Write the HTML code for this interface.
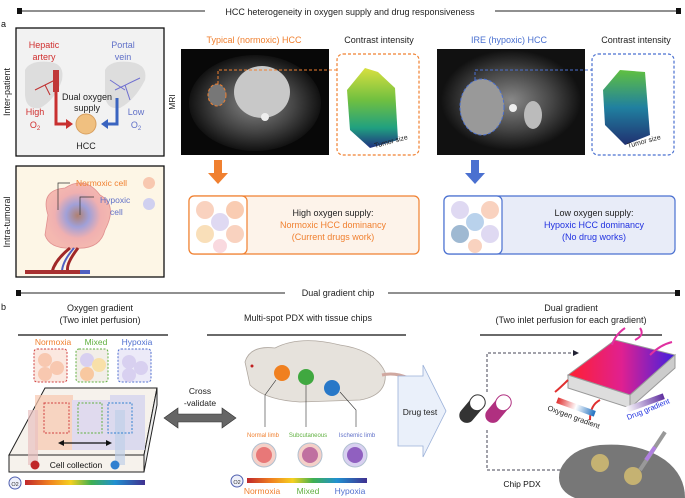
<!DOCTYPE html>
<html><head><meta charset="utf-8"><style>
html,body{margin:0;padding:0;background:#fff;}
svg{display:block;font-family:"Liberation Sans",Arial,sans-serif;}
</style></head><body>
<svg width="685" height="498" viewBox="0 0 685 498" xmlns="http://www.w3.org/2000/svg">
<defs>
<linearGradient id="rb" x1="0" x2="1"><stop offset="0" stop-color="#c0282c"/><stop offset=".2" stop-color="#f08020"/><stop offset=".38" stop-color="#f5d020"/><stop offset=".55" stop-color="#40b050"/><stop offset=".75" stop-color="#2090d0"/><stop offset="1" stop-color="#403090"/></linearGradient>
<linearGradient id="ch" x1="0" x2="1"><stop offset="0" stop-color="#ff2030"/><stop offset=".5" stop-color="#e02090"/><stop offset="1" stop-color="#4020e0"/></linearGradient>
<linearGradient id="og" x1="0" x2="1"><stop offset="0" stop-color="#e03030"/><stop offset=".5" stop-color="#fff"/><stop offset="1" stop-color="#2070c0"/></linearGradient>
<linearGradient id="dg" x1="0" x2="1"><stop offset="0" stop-color="#fff"/><stop offset="1" stop-color="#6030a0"/></linearGradient>
<radialGradient id="mri"><stop offset="0" stop-color="#888"/><stop offset=".6" stop-color="#444"/><stop offset="1" stop-color="#111"/></radialGradient>
<linearGradient id="surf" x1="0" y1="0" x2="0" y2="1"><stop offset="0" stop-color="#d8e040"/><stop offset=".4" stop-color="#70c040"/><stop offset=".75" stop-color="#20a080"/><stop offset="1" stop-color="#203080"/></linearGradient>
<linearGradient id="surf2" x1="0" y1="0" x2="0" y2="1"><stop offset="0" stop-color="#60c040"/><stop offset=".5" stop-color="#2080a0"/><stop offset="1" stop-color="#203070"/></linearGradient>
<radialGradient id="tum"><stop offset="0" stop-color="#b08070"/><stop offset=".35" stop-color="#a0a0d8"/><stop offset=".7" stop-color="#f0b0b0"/><stop offset="1" stop-color="#f4b8b0"/></radialGradient>
</defs>

<!-- Header a -->
<line x1="20" y1="11" x2="205" y2="11" stroke="#222" stroke-width="1"/>
<line x1="495" y1="11" x2="680" y2="11" stroke="#222" stroke-width="1"/>
<rect x="17" y="8" width="5" height="6" fill="#111"/><rect x="676" y="8" width="5" height="6" fill="#111"/>
<text x="350" y="15" font-size="9" text-anchor="middle" fill="#222">HCC heterogeneity in oxygen supply and drug responsiveness</text>
<text x="1" y="27" font-size="9" fill="#111">a</text>

<text transform="translate(10,92) rotate(-90)" font-size="9" text-anchor="middle" fill="#222">Inter-patient</text>
<text transform="translate(10,222) rotate(-90)" font-size="9" text-anchor="middle" fill="#222">Intra-tumoral</text>

<!-- box1 -->
<rect x="16" y="28" width="148" height="128" fill="#f2f2f2" stroke="#111" stroke-width="1.3"/>
<path d="M25 70 Q30 60 50 62 Q65 64 62 80 Q55 100 40 108 Q26 110 25 95Z" fill="#ddd"/>
<path d="M105 70 Q110 60 130 62 Q148 64 145 80 Q135 100 120 108 Q106 110 105 95Z" fill="#ddd"/>
<path d="M35 90 L55 80 M45 85 L50 95" stroke="#c03030" stroke-width="1"/>
<path d="M115 90 L140 78 M125 85 L130 100 M110 80 L125 90" stroke="#7070d0" stroke-width="1"/>
<rect x="53" y="70" width="6" height="22" fill="#c03838"/>
<text x="44" y="48" font-size="9" fill="#d03030" text-anchor="middle">Hepatic</text>
<text x="44" y="60" font-size="9" fill="#d03030" text-anchor="middle">artery</text>
<text x="123" y="48" font-size="9" fill="#6070c8" text-anchor="middle">Portal</text>
<text x="123" y="60" font-size="9" fill="#6070c8" text-anchor="middle">vein</text>
<text x="87" y="100" font-size="9" fill="#222" text-anchor="middle">Dual oxygen</text>
<text x="87" y="111" font-size="9" fill="#222" text-anchor="middle">supply</text>
<path d="M56 92 V124 H68" stroke="#c83030" stroke-width="3" fill="none"/><path d="M66 119 L73 124 L66 129Z" fill="#c83030"/>
<path d="M117 98 V124 H106" stroke="#3a64c0" stroke-width="3" fill="none"/><path d="M108 119 L101 124 L108 129Z" fill="#3a64c0"/>
<text x="35" y="115" font-size="9" fill="#d03030" text-anchor="middle">High</text>
<text x="35" y="128" font-size="9" fill="#d03030" text-anchor="middle">O<tspan font-size="6" dy="2">2</tspan></text>
<text x="136" y="115" font-size="9" fill="#6070c8" text-anchor="middle">Low</text>
<text x="136" y="128" font-size="9" fill="#6070c8" text-anchor="middle">O<tspan font-size="6" dy="2">2</tspan></text>
<circle cx="86" cy="124" r="10" fill="#f0c080" stroke="#d8a060" stroke-width="1"/>
<text x="86" y="149" font-size="9" fill="#222" text-anchor="middle">HCC</text>

<!-- box2 -->
<rect x="16" y="166" width="148" height="111" fill="#fdf6e6" stroke="#111" stroke-width="1.3"/>
<path d="M48 215 Q40 190 65 188 Q85 175 100 195 Q118 205 105 230 Q100 250 75 248 Q50 250 45 235Z" fill="url(#tum)" stroke="#e09090" stroke-width=".8"/>
<path d="M70 248 Q55 260 52 272 M78 248 Q65 265 68 272" stroke="#a02828" stroke-width="3" fill="none"/>
<path d="M74 248 Q62 262 62 272" stroke="#5060c0" stroke-width="2" fill="none"/>
<rect x="25" y="270" width="65" height="4" fill="#a83030"/><rect x="80" y="270" width="10" height="4" fill="#5060c0"/>
<path d="M58 210 V183 H70" stroke="#333" stroke-width=".7" fill="none"/>
<path d="M80 215 V197 H94" stroke="#333" stroke-width=".7" fill="none"/>
<text x="76" y="186" font-size="8.5" fill="#f08030">Normoxic cell</text>
<text x="100" y="203" font-size="8.5" fill="#6070c8">Hypoxic</text>
<text x="110" y="215" font-size="8.5" fill="#6070c8">cell</text>
<circle cx="149" cy="183" r="6" fill="#f8c8b0"/><circle cx="149" cy="204" r="6" fill="#d0d0f0"/>

<!-- MRI panels -->
<text x="254" y="43" font-size="9" fill="#f08030" text-anchor="middle">Typical (normoxic) HCC</text>
<text x="379" y="43" font-size="9" fill="#222" text-anchor="middle">Contrast intensity</text>
<text x="509" y="43" font-size="9" fill="#4a70d0" text-anchor="middle">IRE (hypoxic) HCC</text>
<text x="636" y="43" font-size="9" fill="#222" text-anchor="middle">Contrast intensity</text>
<text transform="translate(175,102) rotate(-90)" font-size="8.5" text-anchor="middle" fill="#222">MRI</text>
<rect x="181" y="49" width="148" height="106" fill="#080808"/>
<ellipse cx="255" cy="103" rx="66" ry="48" fill="url(#mri)"/>
<ellipse cx="262" cy="92" rx="28" ry="26" fill="#c8c8c8"/>
<circle cx="265" cy="117" r="4" fill="#eee"/>
<ellipse cx="217" cy="95" rx="9" ry="11" fill="#777" stroke="#f08030" stroke-width="1" stroke-dasharray="3,2"/>
<path d="M218 84 V70 H337" stroke="#f08030" stroke-width="1" stroke-dasharray="3,2" fill="none"/>
<rect x="337" y="54" width="82" height="101" rx="6" fill="#fff" stroke="#f08030" stroke-width="1.2" stroke-dasharray="3,2"/>
<path d="M347 90 L365 68 L378 72 L395 88 L398 140 L370 148 L350 130Z" fill="url(#surf)"/>
<text transform="translate(375,148) rotate(-15)" font-size="7" fill="#222">Tumor size</text>

<rect x="437" y="49" width="148" height="106" fill="#111"/>
<ellipse cx="511" cy="100" rx="70" ry="50" fill="url(#mri)"/>
<ellipse cx="482" cy="107" rx="22" ry="28" fill="#999" stroke="#4a70d0" stroke-width="1" stroke-dasharray="3,2"/>
<circle cx="513" cy="108" r="4" fill="#eee"/>
<ellipse cx="533" cy="115" rx="9" ry="14" fill="#bbb"/>
<path d="M475 80 V70 H592" stroke="#4a70d0" stroke-width="1" stroke-dasharray="3,2" fill="none"/>
<rect x="592" y="54" width="82" height="101" rx="6" fill="#fff" stroke="#4a70d0" stroke-width="1.2" stroke-dasharray="3,2"/>
<path d="M603 90 L620 70 L645 72 L650 135 L625 145 L605 125Z" fill="url(#surf2)"/>
<text transform="translate(628,148) rotate(-15)" font-size="7" fill="#222">Tumor size</text>

<!-- arrows -->
<rect x="214" y="160" width="8" height="14" fill="#f08030"/><path d="M208 173 L228 173 L218 184Z" fill="#f08030"/>
<rect x="471" y="160" width="8" height="14" fill="#4a70d0"/><path d="M465 173 L485 173 L475 184Z" fill="#4a70d0"/>

<!-- result boxes -->
<rect x="189" y="196" width="230" height="58" rx="5" fill="#fdf3ea" stroke="#f08030" stroke-width="1.2"/>
<rect x="189" y="196" width="58" height="58" rx="5" fill="#fff" stroke="#f08030" stroke-width="1.2"/>
<g opacity=".8"><circle cx="205" cy="210" r="9" fill="#f8c8b0"/><circle cx="235" cy="210" r="9" fill="#f8c0a0"/><circle cx="220" cy="222" r="9" fill="#d8d0f0"/><circle cx="205" cy="234" r="9" fill="#f8d8a8"/><circle cx="235" cy="234" r="9" fill="#f8c8b0"/><circle cx="220" cy="246" r="7" fill="#f8d0d8"/></g>
<text x="333" y="216" font-size="9" fill="#222" text-anchor="middle">High oxygen supply:</text>
<text x="333" y="228" font-size="9" fill="#f08030" text-anchor="middle">Normoxic HCC dominancy</text>
<text x="333" y="240" font-size="9" fill="#f08030" text-anchor="middle">(Current drugs work)</text>

<rect x="444" y="196" width="231" height="58" rx="5" fill="#e8ecf8" stroke="#4a70d0" stroke-width="1.2"/>
<rect x="444" y="196" width="58" height="58" rx="5" fill="#fff" stroke="#4a70d0" stroke-width="1.2"/>
<g opacity=".8"><circle cx="460" cy="210" r="9" fill="#d8d0f0"/><circle cx="490" cy="210" r="9" fill="#f8c8b0"/><circle cx="475" cy="222" r="9" fill="#a8c8e8"/><circle cx="460" cy="234" r="9" fill="#88a8c8"/><circle cx="490" cy="234" r="9" fill="#d8d0f0"/><circle cx="475" cy="246" r="7" fill="#f8c8b0"/></g>
<text x="594" y="216" font-size="9" fill="#222" text-anchor="middle">Low oxygen supply:</text>
<text x="594" y="228" font-size="9" fill="#2030e0" text-anchor="middle">Hypoxic HCC dominancy</text>
<text x="594" y="240" font-size="9" fill="#2030e0" text-anchor="middle">(No drug works)</text>

<!-- Header b -->
<line x1="20" y1="293" x2="285" y2="293" stroke="#222"/><line x1="388" y1="293" x2="678" y2="293" stroke="#222"/>
<rect x="16" y="290" width="5" height="6" fill="#111"/><rect x="675" y="290" width="5" height="6" fill="#111"/>
<text x="338" y="296" font-size="9" text-anchor="middle" fill="#222">Dual gradient chip</text>
<text x="1" y="310" font-size="9" fill="#111">b</text>

<text x="100" y="311" font-size="9" text-anchor="middle" fill="#222">Oxygen gradient</text>
<text x="100" y="323" font-size="9" text-anchor="middle" fill="#222">(Two inlet perfusion)</text>
<line x1="18" y1="335" x2="168" y2="335" stroke="#111" stroke-width="1.2"/>
<text x="308" y="321" font-size="9" text-anchor="middle" fill="#222">Multi-spot PDX with tissue chips</text>
<line x1="207" y1="335" x2="406" y2="335" stroke="#111" stroke-width="1.2"/>
<text x="571" y="311" font-size="9" text-anchor="middle" fill="#222">Dual gradient</text>
<text x="571" y="323" font-size="9" text-anchor="middle" fill="#222">(Two inlet perfusion for each gradient)</text>
<line x1="480" y1="335" x2="662" y2="335" stroke="#111" stroke-width="1.2"/>

<!-- oxygen chip -->
<text x="53" y="345" font-size="8.5" fill="#f08030" text-anchor="middle">Normoxia</text>
<text x="96" y="345" font-size="8.5" fill="#60b040" text-anchor="middle">Mixed</text>
<text x="137" y="345" font-size="8.5" fill="#5070d0" text-anchor="middle">Hypoxia</text>
<rect x="34" y="349" width="33" height="33" rx="3" fill="#fbe8e0" stroke="#d04040" stroke-dasharray="2,1.5"/>
<rect x="76" y="349" width="32" height="33" rx="3" fill="#f2eee8" stroke="#60b040" stroke-dasharray="2,1.5"/>
<rect x="118" y="349" width="33" height="33" rx="3" fill="#eceaf8" stroke="#5070d0" stroke-dasharray="2,1.5"/>
<circle cx="45" cy="360" r="7" fill="#f8c8b0"/><circle cx="57" cy="368" r="7" fill="#f8c8b0"/><circle cx="45" cy="374" r="7" fill="#f8c8b0"/>
<circle cx="87" cy="360" r="7" fill="#d8d0f0"/><circle cx="99" cy="365" r="7" fill="#f8e0a8"/><circle cx="87" cy="374" r="7" fill="#f8c8a0"/>
<circle cx="129" cy="362" r="7" fill="#d8d0f0"/><circle cx="141" cy="368" r="7" fill="#d8d0f0"/><circle cx="129" cy="375" r="7" fill="#d8d0f0"/>
<polygon points="45,388 157,388 144,455 9,455" fill="#f6f2ec" stroke="#222" stroke-width="1"/>
<rect x="9" y="455" width="135" height="17" fill="#f6f2ec" stroke="#222" stroke-width="1"/>
<polygon points="144,455 157,388 157,405 144,472" fill="#eee" stroke="#222"/>
<g opacity=".7"><rect x="35" y="395" width="38" height="55" fill="#f8c8b0"/><rect x="72" y="400" width="40" height="50" fill="#d8d0f0"/><rect x="110" y="395" width="35" height="55" fill="#d0d0f0"/></g>
<rect x="28" y="410" width="10" height="55" fill="#e8c0c0" opacity=".7"/><rect x="115" y="410" width="10" height="55" fill="#c0d0e8" opacity=".7"/>
<rect x="44" y="403" width="25" height="30" fill="none" stroke="#d04040" stroke-dasharray="2,1.5"/>
<rect x="78" y="403" width="24" height="30" fill="none" stroke="#60b040" stroke-dasharray="2,1.5"/>
<rect x="108" y="403" width="24" height="30" fill="none" stroke="#3080d0" stroke-dasharray="2,1.5"/>
<line x1="62" y1="443" x2="108" y2="443" stroke="#111" stroke-width="1.2"/>
<path d="M58 443 L64 440 L64 446Z M112 443 L106 440 L106 446Z" fill="#111"/>
<circle cx="35" cy="465" r="4.5" fill="#c02828"/><circle cx="115" cy="465" r="4.5" fill="#3080d0"/>
<text x="76" y="468" font-size="8.5" text-anchor="middle" fill="#111">Cell collection</text>
<rect x="25" y="480" width="120" height="5" fill="url(#rb)"/>
<circle cx="15" cy="483" r="6" fill="#eef0fa" stroke="#5060b0"/><text x="15" y="486" font-size="5.5" text-anchor="middle" fill="#333">O2</text>

<!-- cross validate -->
<text x="200" y="394" font-size="8.5" text-anchor="middle" fill="#222">Cross</text>
<text x="200" y="406" font-size="8.5" text-anchor="middle" fill="#222">-validate</text>
<path d="M164 418 L178 408 L178 414 L222 414 L222 408 L236 418 L222 428 L222 422 L178 422 L178 428Z" fill="#666" stroke="#333" stroke-width=".6"/>

<!-- mouse -->
<path d="M245 362 Q250 345 275 348 Q300 335 340 345 Q375 350 385 372 Q388 395 360 400 L300 402 Q265 400 250 385 Z" fill="#e6e2dc" stroke="#b0a8a0" stroke-width=".8"/>
<path d="M382 375 Q395 372 408 378" stroke="#d0a8a0" stroke-width="3" fill="none"/>
<circle cx="252" cy="366" r="1.5" fill="#c02020"/>
<circle cx="282" cy="373" r="8" fill="#f08020"/><circle cx="306" cy="377" r="8" fill="#40a840"/><circle cx="332" cy="388" r="8" fill="#2878c8"/>
<path d="M276 380 L265 395 V427 M306 385 V427 M340 392 L356 410 V427" stroke="#333" stroke-width=".6" fill="none"/>
<text x="263" y="437" font-size="6" text-anchor="middle" fill="#f08030">Normal limb</text>
<text x="308" y="437" font-size="6" text-anchor="middle" fill="#60b040">Subcutaneous</text>
<text x="357" y="437" font-size="6" text-anchor="middle" fill="#6070c8">Ischemic limb</text>
<circle cx="264" cy="455" r="12" fill="#f4d0c8" stroke="#b0c0d0"/><circle cx="264" cy="455" r="8" fill="#e87878"/>
<circle cx="310" cy="455" r="12" fill="#f4d0c8" stroke="#b0c0d0"/><circle cx="310" cy="455" r="8" fill="#c070a0"/>
<circle cx="355" cy="455" r="12" fill="#d8d0f0" stroke="#b0c0d0"/><circle cx="355" cy="455" r="8" fill="#9060c0"/>
<rect x="247" y="478" width="120" height="5" fill="url(#rb)"/>
<circle cx="237" cy="481" r="6" fill="#eef0fa" stroke="#5060b0"/><text x="237" y="484" font-size="5.5" text-anchor="middle" fill="#333">O2</text>
<text x="262" y="494" font-size="8.5" text-anchor="middle" fill="#f08030">Normoxia</text>
<text x="308" y="494" font-size="8.5" text-anchor="middle" fill="#60b040">Mixed</text>
<text x="350" y="494" font-size="8.5" text-anchor="middle" fill="#5070d0">Hypoxia</text>

<!-- drug test arrow -->
<path d="M398 376 L423 376 L423 365 L446 411 L423 457 L423 446 L398 446Z" fill="#eaf0fa" stroke="#9ab0d8" stroke-width=".8"/>
<text x="420" y="415" font-size="8.5" text-anchor="middle" fill="#222">Drug test</text>

<!-- pills -->
<g transform="rotate(-50 472 410)"><rect x="457" y="402" width="32" height="15" rx="7.5" fill="#333"/><rect x="473" y="402" width="16" height="15" rx="7.5" fill="#fff" stroke="#333"/></g>
<g transform="rotate(-50 498 410)"><rect x="483" y="402" width="32" height="15" rx="7.5" fill="#b03080"/><rect x="499" y="402" width="16" height="15" rx="7.5" fill="#fff" stroke="#b03080"/></g>
<path d="M487 392 V353 H575 M487 430 V470 H575" stroke="#445" stroke-width="1" stroke-dasharray="3,2" fill="none"/>
<path d="M573 350 L579 353 L573 356Z M573 467 L579 470 L573 473Z" fill="#223"/>

<!-- dual chip -->
<polygon points="568,375 615,340 675,355 630,395" fill="url(#ch)" stroke="#999"/>
<polygon points="568,375 630,395 630,408 568,388" fill="#ddd" stroke="#999"/>
<polygon points="630,395 675,355 675,368 630,408" fill="#ccc" stroke="#999"/>
<path d="M612 345 Q615 335 625 328 M650 355 Q660 345 672 342 M635 340 Q645 335 640 328" stroke="#e030a0" stroke-width="2" fill="none"/>
<path d="M568 380 Q560 388 555 392 M600 400 Q590 405 590 420" stroke="#e03030" stroke-width="2" fill="none"/>
<rect x="556" y="404" width="40" height="6" fill="url(#og)" transform="rotate(20 576 407)"/>
<rect x="625" y="400" width="40" height="6" fill="url(#dg)" transform="rotate(-20 645 403)"/>
<text transform="translate(547,410) rotate(20)" font-size="7.5" fill="#222">Oxygen gradient</text>
<text transform="translate(628,420) rotate(-22)" font-size="7.5" fill="#2030e0">Drug gradient</text>

<!-- gray mouse -->
<path d="M560 470 Q570 448 600 445 Q640 442 665 460 Q685 475 685 498 L575 498 Q555 490 560 470Z" fill="#777"/>
<circle cx="600" cy="463" r="9" fill="#d8c070" opacity=".8"/><circle cx="633" cy="476" r="9" fill="#d8c070" opacity=".8"/>
<path d="M640 470 L665 432" stroke="#999" stroke-width="4"/><path d="M646 460 L655 447" stroke="#b080e0" stroke-width="4"/>
<text x="522" y="487" font-size="8.5" text-anchor="middle" fill="#111">Chip PDX</text>
</svg>
</body></html>
